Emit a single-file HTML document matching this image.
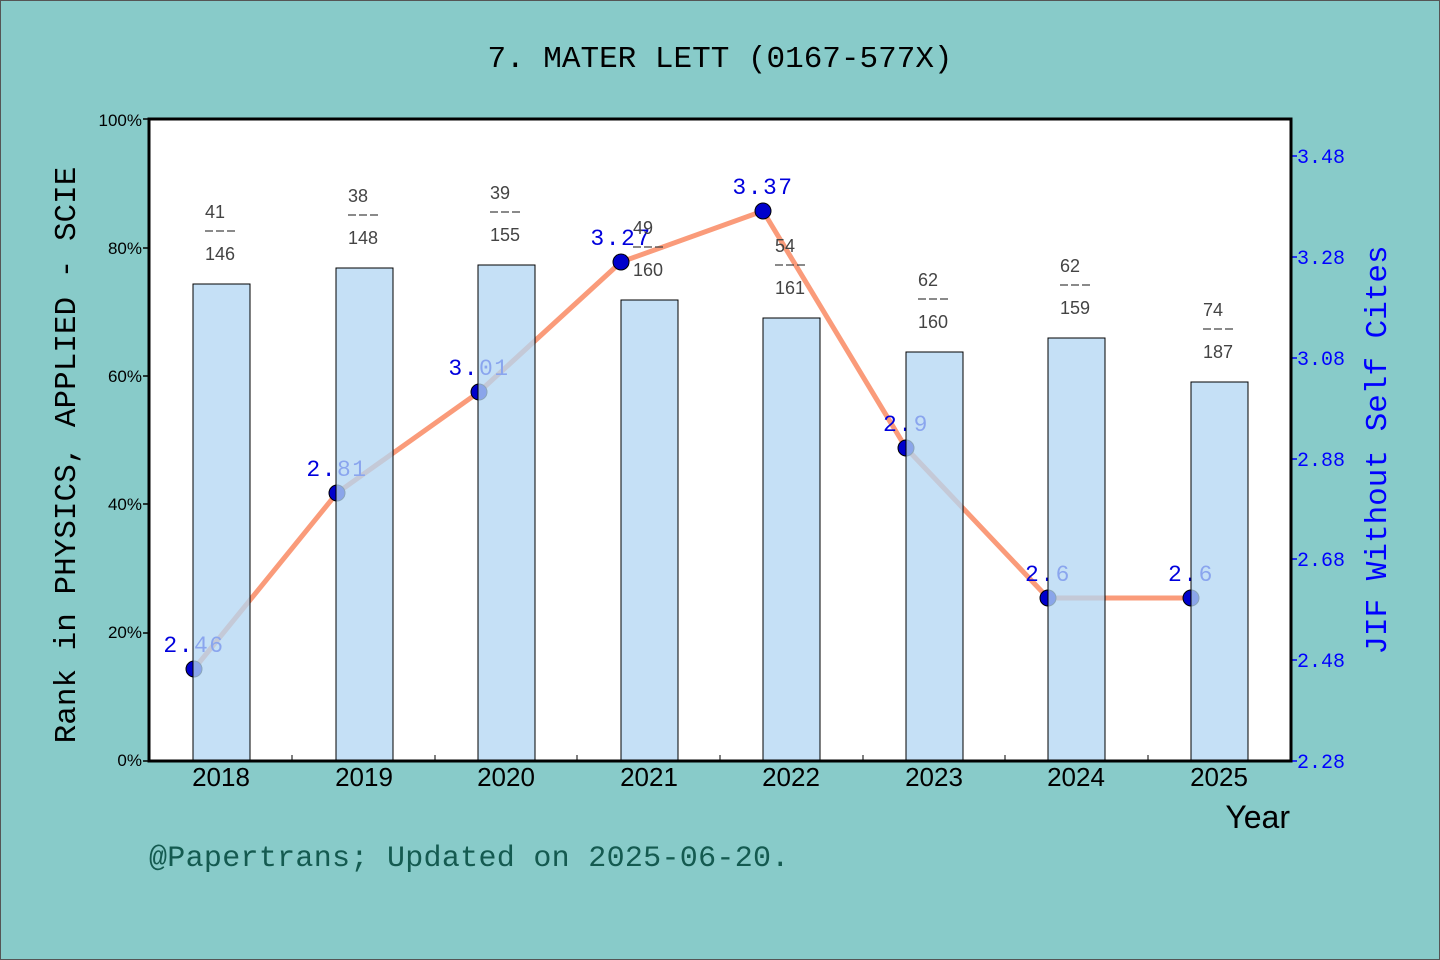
<!DOCTYPE html>
<html><head><meta charset="utf-8"><style>body{margin:0;background:#88cbc9}svg{display:block}</style></head><body>
<svg width="1440" height="960" xmlns="http://www.w3.org/2000/svg">
<rect x="0" y="0" width="1440" height="960" fill="#88cbc9" stroke="#555" stroke-width="2"/>
<text x="720" y="67" text-anchor="middle" font-family="Liberation Mono, monospace" font-size="31" fill="#000">7. MATER LETT (0167-577X)</text>
<rect x="149" y="119" width="1142" height="642" fill="#fff"/>
<g font-family="Liberation Sans, sans-serif" font-size="17" fill="#000" text-anchor="end">
<text x="142" y="766">0%</text><text x="142" y="638">20%</text><text x="142" y="510">40%</text><text x="142" y="382">60%</text><text x="142" y="254">80%</text><text x="142" y="126">100%</text>
</g>
<g stroke="#000" stroke-width="1.5"><line x1="143" y1="761" x2="149" y2="761"/><line x1="143" y1="633" x2="149" y2="633"/><line x1="143" y1="504" x2="149" y2="504"/><line x1="143" y1="376" x2="149" y2="376"/><line x1="143" y1="248" x2="149" y2="248"/><line x1="143" y1="119" x2="149" y2="119"/></g>
<g stroke="#00f" stroke-width="1.5"><line x1="1291" y1="761" x2="1297" y2="761"/><line x1="1291" y1="660" x2="1297" y2="660"/><line x1="1291" y1="559" x2="1297" y2="559"/><line x1="1291" y1="459" x2="1297" y2="459"/><line x1="1291" y1="358" x2="1297" y2="358"/><line x1="1291" y1="257" x2="1297" y2="257"/><line x1="1291" y1="156" x2="1297" y2="156"/></g>
<g font-family="Liberation Mono, monospace" font-size="20" fill="#00f">
<text x="1297" y="768">2.28</text><text x="1297" y="667">2.48</text><text x="1297" y="566">2.68</text><text x="1297" y="466">2.88</text><text x="1297" y="365">3.08</text><text x="1297" y="264">3.28</text><text x="1297" y="163">3.48</text>
</g>
<text transform="translate(75,455) rotate(-90)" text-anchor="middle" font-family="Liberation Mono, monospace" font-size="31" fill="#000">Rank in PHYSICS, APPLIED - SCIE</text>
<text transform="translate(1386,450) rotate(-90)" text-anchor="middle" font-family="Liberation Mono, monospace" font-size="31" fill="#00f">JIF Without Self Cites</text>
<polyline points="194,669 337,493 479,392 621,262 763,211 906,448 1048,598 1191,598" fill="none" stroke="#fa9b7a" stroke-width="5" stroke-linejoin="round"/>
<g fill="#0000cc" stroke="#000" stroke-width="1">
<circle cx="194" cy="669" r="8"/><circle cx="337" cy="493" r="8"/><circle cx="479" cy="392" r="8"/><circle cx="621" cy="262" r="8"/><circle cx="763" cy="211" r="8"/><circle cx="906" cy="448" r="8"/><circle cx="1048" cy="598" r="8"/><circle cx="1191" cy="598" r="8"/>
</g>
<g font-family="Liberation Mono, monospace" font-size="23" fill="#00d" text-anchor="middle" letter-spacing="1.5">
<text x="194" y="652">2.46</text><text x="337" y="476">2.81</text><text x="479" y="375">3.01</text><text x="621" y="245">3.27</text><text x="763" y="194">3.37</text><text x="906" y="431">2.9</text><text x="1048" y="581">2.6</text><text x="1191" y="581">2.6</text>
</g>
<g fill="rgba(179,215,243,0.77)" stroke="#000" stroke-width="1">
<rect x="193" y="284" width="57" height="477"/><rect x="336" y="268" width="57" height="493"/><rect x="478" y="265" width="57" height="496"/><rect x="621" y="300" width="57" height="461"/><rect x="763" y="318" width="57" height="443"/><rect x="906" y="352" width="57" height="409"/><rect x="1048" y="338" width="57" height="423"/><rect x="1191" y="382" width="57" height="379"/>
</g>
<g font-family="Liberation Sans, sans-serif" font-size="18" fill="#444">
<text x="205" y="218">41</text><text x="205" y="260">146</text>
<text x="348" y="202">38</text><text x="348" y="244">148</text>
<text x="490" y="199">39</text><text x="490" y="241">155</text>
<text x="633" y="234">49</text><text x="633" y="276">160</text>
<text x="775" y="252">54</text><text x="775" y="294">161</text>
<text x="918" y="286">62</text><text x="918" y="328">160</text>
<text x="1060" y="272">62</text><text x="1060" y="314">159</text>
<text x="1203" y="316">74</text><text x="1203" y="358">187</text>
</g>
<g stroke="#444" stroke-width="1.3" stroke-dasharray="8,3">
<line x1="205" y1="231" x2="238" y2="231"/><line x1="348" y1="215" x2="381" y2="215"/><line x1="490" y1="212" x2="523" y2="212"/><line x1="633" y1="247" x2="666" y2="247"/><line x1="775" y1="265" x2="808" y2="265"/><line x1="918" y1="299" x2="951" y2="299"/><line x1="1060" y1="285" x2="1093" y2="285"/><line x1="1203" y1="329" x2="1236" y2="329"/>
</g>
<rect x="149" y="119" width="1142" height="642" fill="none" stroke="#000" stroke-width="3"/>
<g stroke="#000" stroke-width="1"><line x1="292" y1="755" x2="292" y2="761"/><line x1="435" y1="755" x2="435" y2="761"/><line x1="577" y1="755" x2="577" y2="761"/><line x1="720" y1="755" x2="720" y2="761"/><line x1="863" y1="755" x2="863" y2="761"/><line x1="1005" y1="755" x2="1005" y2="761"/><line x1="1148" y1="755" x2="1148" y2="761"/></g>
<g font-family="Liberation Sans, sans-serif" font-size="26" fill="#000" text-anchor="middle">
<text x="221" y="786">2018</text><text x="364" y="786">2019</text><text x="506" y="786">2020</text><text x="649" y="786">2021</text><text x="791" y="786">2022</text><text x="934" y="786">2023</text><text x="1076" y="786">2024</text><text x="1219" y="786">2025</text>
</g>
<text x="1290" y="828" text-anchor="end" font-family="Liberation Sans, sans-serif" font-size="32" fill="#000">Year</text>
<text x="149" y="866" font-family="Liberation Mono, monospace" font-size="30" letter-spacing="0.3" fill="#145a50">@Papertrans; Updated on 2025-06-20.</text>
</svg>
</body></html>
